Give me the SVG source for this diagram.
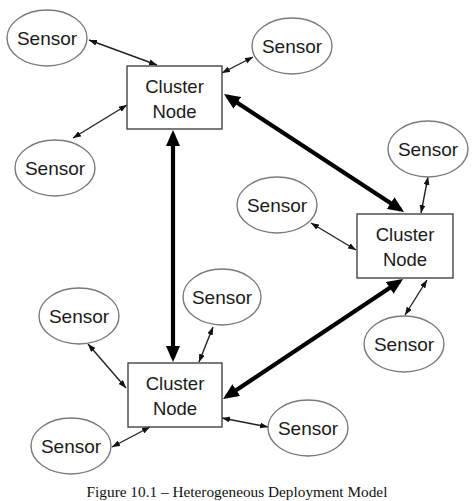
<svg xmlns="http://www.w3.org/2000/svg" width="474" height="501" viewBox="0 0 474 501">
<style>
.sensor ellipse{fill:#fff;stroke:#7a7a7a;stroke-width:1.4}
.cluster rect{fill:#fff;stroke:#444;stroke-width:1.4}
.lbl{font-family:"Liberation Sans",Arial,sans-serif;font-size:19px;fill:#1a1a1a;text-anchor:middle}
.clbl{font-family:"Liberation Sans",Arial,sans-serif;font-size:18.5px;fill:#1a1a1a;text-anchor:middle}
.thin{stroke:#222;stroke-width:1.4;fill:none;marker-start:url(#ah);marker-end:url(#ah)}
.thick{stroke:#000;stroke-width:4.2;fill:none;marker-start:url(#AH);marker-end:url(#AH)}
.cap{font-family:"Liberation Serif","Times New Roman",serif;font-size:15.3px;fill:#111;text-anchor:middle}
</style>
<defs>
<marker id="ah" viewBox="0 0 8 6" refX="8" refY="3" markerWidth="8" markerHeight="6" markerUnits="userSpaceOnUse" orient="auto-start-reverse">
<path d="M0,0 L8,3 L0,6 Z" fill="#111"/>
</marker>
<marker id="AH" viewBox="0 0 16 14" refX="12" refY="7" markerWidth="16" markerHeight="14" markerUnits="userSpaceOnUse" orient="auto-start-reverse">
<path d="M0,0 L16,7 L0,14 Z" fill="#000"/>
</marker>
</defs>
<rect width="474" height="501" fill="#fff"/>
<g id="connectors">
<line class="thin" x1="89" y1="40" x2="157" y2="65"/>
<line class="thin" x1="222" y1="73" x2="253" y2="57"/>
<line class="thin" x1="127" y1="105" x2="73" y2="138"/>
<line class="thin" x1="421" y1="213" x2="428" y2="177"/>
<line class="thin" x1="356" y1="250" x2="311" y2="223"/>
<line class="thin" x1="427" y1="280" x2="405" y2="315"/>
<line class="thin" x1="199" y1="362" x2="213" y2="327"/>
<line class="thin" x1="126" y1="388" x2="88" y2="344"/>
<line class="thin" x1="150" y1="427" x2="112" y2="447"/>
<line class="thin" x1="222" y1="418" x2="268" y2="427"/>
<line class="thick" x1="173" y1="134" x2="173" y2="358"/>
<line class="thick" x1="227.3" y1="96.2" x2="400.7" y2="209.8"/>
<line class="thick" x1="226.3" y1="396.8" x2="399.7" y2="281.2"/>
</g>
<g id="cluster1" class="cluster"><rect x="127" y="66" width="95" height="63"/><text class="clbl" x="174.5" y="93">Cluster</text><text class="clbl" x="174.5" y="118">Node</text></g>
<g id="cluster2" class="cluster"><rect x="357" y="214" width="96" height="64"/><text class="clbl" x="405" y="241">Cluster</text><text class="clbl" x="405" y="266">Node</text></g>
<g id="cluster3" class="cluster"><rect x="128" y="363" width="94" height="64"/><text class="clbl" x="175" y="390">Cluster</text><text class="clbl" x="175" y="415">Node</text></g>
<g id="sensor1" class="sensor"><ellipse cx="47" cy="38" rx="40" ry="28"/><text class="lbl" x="47" y="45">Sensor</text></g>
<g id="sensor2" class="sensor"><ellipse cx="292" cy="46" rx="40" ry="28"/><text class="lbl" x="292" y="53">Sensor</text></g>
<g id="sensor3" class="sensor"><ellipse cx="55" cy="168" rx="40" ry="28"/><text class="lbl" x="55" y="175">Sensor</text></g>
<g id="sensor4" class="sensor"><ellipse cx="428" cy="149" rx="40" ry="28"/><text class="lbl" x="428" y="156">Sensor</text></g>
<g id="sensor5" class="sensor"><ellipse cx="277" cy="205" rx="40" ry="28"/><text class="lbl" x="277" y="212">Sensor</text></g>
<g id="sensor6" class="sensor"><ellipse cx="222" cy="297" rx="39" ry="28"/><text class="lbl" x="222" y="304">Sensor</text></g>
<g id="sensor7" class="sensor"><ellipse cx="404" cy="344" rx="40" ry="28"/><text class="lbl" x="404" y="351">Sensor</text></g>
<g id="sensor8" class="sensor"><ellipse cx="79" cy="316" rx="40" ry="28"/><text class="lbl" x="79" y="323">Sensor</text></g>
<g id="sensor9" class="sensor"><ellipse cx="71" cy="446" rx="40" ry="28"/><text class="lbl" x="71" y="453">Sensor</text></g>
<g id="sensor10" class="sensor"><ellipse cx="308" cy="428" rx="40" ry="28"/><text class="lbl" x="308" y="435">Sensor</text></g>
<text class="cap" x="237" y="497">Figure 10.1 – Heterogeneous Deployment Model</text>
</svg>
